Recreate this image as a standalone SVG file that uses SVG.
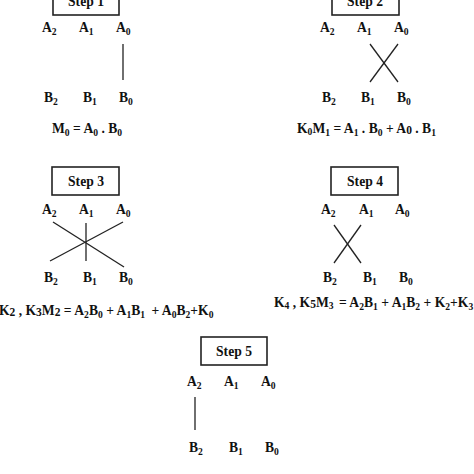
<svg xmlns="http://www.w3.org/2000/svg" width="474" height="474" viewBox="0 0 474 474">
<style>
text{font-family:"Liberation Serif","Times New Roman",serif;font-weight:bold;font-size:13.6px;fill:#111}
.s{font-size:9.6px}
.m{font-size:11.5px}
.box{fill:#fff;stroke:#222;stroke-width:1.6}
.ln{stroke:#222;stroke-width:1.3;fill:none}
</style>
<rect width="474" height="474" fill="#fff"/>
<g id="step1">
<rect class="box" x="53" y="-13" width="66" height="28"/>
<text x="86" y="6" text-anchor="middle">Step 1</text>
<text x="42" y="32">A<tspan class="s" dy="3">2</tspan></text>
<text x="79" y="32">A<tspan class="s" dy="3">1</tspan></text>
<text x="116" y="32">A<tspan class="s" dy="3">0</tspan></text>
<text x="44" y="102">B<tspan class="s" dy="3">2</tspan></text>
<text x="83" y="102">B<tspan class="s" dy="3">1</tspan></text>
<text x="119" y="102">B<tspan class="s" dy="3">0</tspan></text>
<text x="52" y="133">M<tspan class="s" dy="3">0</tspan><tspan dy="-3"> = A</tspan><tspan class="s" dy="3">0</tspan><tspan dy="-3"> . B</tspan><tspan class="s" dy="3">0</tspan></text>
</g>
<g id="step2">
<rect class="box" x="332" y="-13" width="67" height="28"/>
<text x="365" y="6" text-anchor="middle">Step 2</text>
<text x="320" y="32">A<tspan class="s" dy="3">2</tspan></text>
<text x="357" y="32">A<tspan class="s" dy="3">1</tspan></text>
<text x="394" y="32">A<tspan class="s" dy="3">0</tspan></text>
<text x="322" y="102">B<tspan class="s" dy="3">2</tspan></text>
<text x="361" y="102">B<tspan class="s" dy="3">1</tspan></text>
<text x="397" y="102">B<tspan class="s" dy="3">0</tspan></text>
<text x="297" y="133">K<tspan class="s" dy="2">0</tspan><tspan dy="-2">M</tspan><tspan class="s" dy="3">1</tspan><tspan dy="-3"> = A</tspan><tspan class="s" dy="3">1</tspan><tspan dy="-3"> . B</tspan><tspan class="s" dy="3">0</tspan><tspan dy="-3"> + A</tspan><tspan class="m" dy="1">0</tspan><tspan dy="-1"> . B</tspan><tspan class="s" dy="3">1</tspan></text>
</g>
<g id="step3">
<rect class="box" x="52" y="167" width="67" height="28"/>
<text x="86" y="186" text-anchor="middle">Step 3</text>
<text x="42" y="214">A<tspan class="s" dy="3">2</tspan></text>
<text x="79" y="214">A<tspan class="s" dy="3">1</tspan></text>
<text x="116" y="214">A<tspan class="s" dy="3">0</tspan></text>
<text x="44" y="282">B<tspan class="s" dy="3">2</tspan></text>
<text x="83" y="282">B<tspan class="s" dy="3">1</tspan></text>
<text x="119" y="282">B<tspan class="s" dy="3">0</tspan></text>
<text x="-1" y="315">K<tspan class="m" dy="1">2</tspan><tspan dy="-1"> , K</tspan><tspan class="m" dy="1">3</tspan><tspan dy="-1">M</tspan><tspan class="m" dy="1">2</tspan><tspan dy="-1"> = A</tspan><tspan class="s" dy="3">2</tspan><tspan dy="-3">B</tspan><tspan class="s" dy="3">0</tspan><tspan dy="-3"> + A</tspan><tspan class="s" dy="3">1</tspan><tspan dy="-3">B</tspan><tspan class="s" dy="3">1</tspan><tspan dy="-3" dx="3"> + A</tspan><tspan class="s" dy="3">0</tspan><tspan dy="-3">B</tspan><tspan class="s" dy="3">2</tspan><tspan dy="-3">+K</tspan><tspan class="s" dy="3">0</tspan></text>
</g>
<g id="step4">
<rect class="box" x="331" y="167" width="67" height="28"/>
<text x="365" y="186" text-anchor="middle">Step 4</text>
<text x="321" y="214">A<tspan class="s" dy="3">2</tspan></text>
<text x="359" y="214">A<tspan class="s" dy="3">1</tspan></text>
<text x="395" y="214">A<tspan class="s" dy="3">0</tspan></text>
<text x="323" y="282">B<tspan class="s" dy="3">2</tspan></text>
<text x="363" y="282">B<tspan class="s" dy="3">1</tspan></text>
<text x="399" y="282">B<tspan class="s" dy="3">0</tspan></text>
<text x="274" y="307">K<tspan class="s" dy="2">4</tspan><tspan dy="-2"> , K</tspan><tspan class="m" dy="1">5</tspan><tspan dy="-1">M</tspan><tspan class="s" dy="2">3</tspan><tspan dy="-2" dx="2"> = A</tspan><tspan class="s" dy="3">2</tspan><tspan dy="-3">B</tspan><tspan class="s" dy="3">1</tspan><tspan dy="-3"> + A</tspan><tspan class="s" dy="3">1</tspan><tspan dy="-3">B</tspan><tspan class="s" dy="3">2</tspan><tspan dy="-3"> + K</tspan><tspan class="s" dy="3">2</tspan><tspan dy="-3">+K</tspan><tspan class="s" dy="3">3</tspan></text>
</g>
<g id="step5">
<rect class="box" x="201" y="337" width="66" height="28"/>
<text x="234" y="356" text-anchor="middle">Step 5</text>
<text x="187" y="386">A<tspan class="s" dy="3">2</tspan></text>
<text x="224" y="386">A<tspan class="s" dy="3">1</tspan></text>
<text x="261" y="386">A<tspan class="s" dy="3">0</tspan></text>
<text x="189" y="452">B<tspan class="s" dy="3">2</tspan></text>
<text x="229" y="452">B<tspan class="s" dy="3">1</tspan></text>
<text x="265" y="452">B<tspan class="s" dy="3">0</tspan></text>
</g>
<g id="connectors">
<line class="ln" x1="123" y1="44" x2="123" y2="80"/>
<line class="ln" x1="370" y1="44" x2="398" y2="82"/>
<line class="ln" x1="398" y1="44" x2="370" y2="82"/>
<line class="ln" x1="53" y1="222" x2="124" y2="267"/>
<line class="ln" x1="123" y1="222" x2="50" y2="261"/>
<line class="ln" x1="86" y1="223" x2="86" y2="261"/>
<line class="ln" x1="334" y1="225" x2="361" y2="263"/>
<line class="ln" x1="361" y1="225" x2="334" y2="263"/>
<line class="ln" x1="195" y1="397" x2="195" y2="430"/>
</g>
</svg>
